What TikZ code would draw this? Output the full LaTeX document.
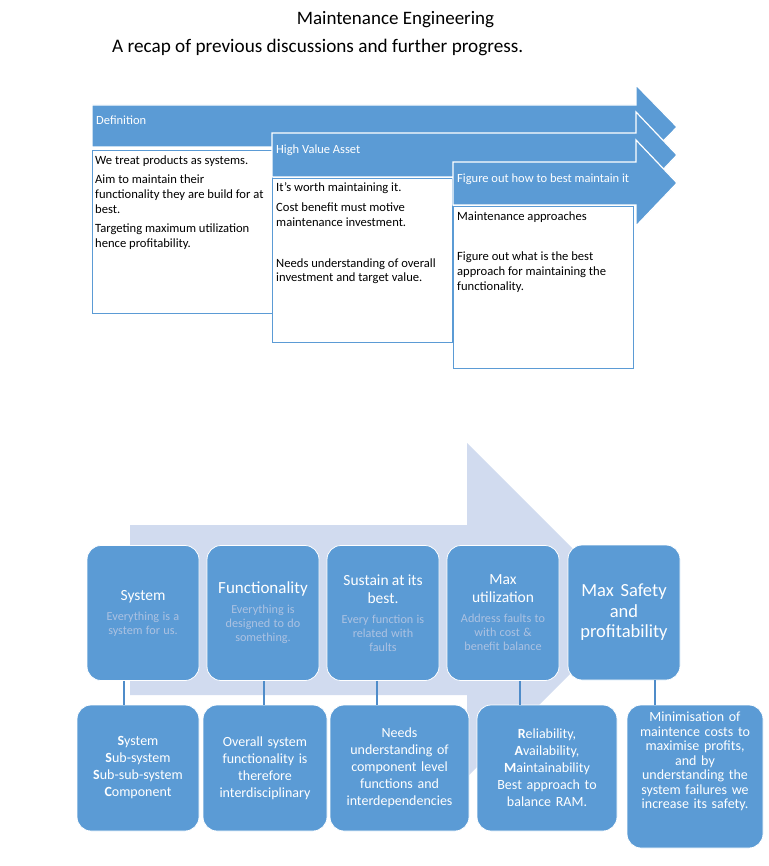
\documentclass[tikz,border=0pt]{standalone}
\usepackage{fontspec}
\setmainfont{Carlito}
\definecolor{boxblue}{RGB}{91,155,213}
\definecolor{lightarrow}{RGB}{209,219,239}
\definecolor{subgrey}{RGB}{172,194,226}
\definecolor{linkblue}{RGB}{79,140,201}
\newcommand\rtitle{\fontsize{15.5}{18}\selectfont}
\newcommand\rsub{\fontsize{12.2}{14}\selectfont\color{subgrey}}
\begin{document}
\begin{tikzpicture}[x=1pt,y=-1pt,
  tline/.style={anchor=base west, inner sep=0pt, font=\fontsize{12.6}{15}\selectfont, text=black},
  alabel/.style={anchor=base west, inner sep=0pt, font=\fontsize{12.5}{15}\selectfont, text=white},
  bigarrow/.style={fill=boxblue, draw=white, line width=1.2pt},
  tbox/.style={draw=boxblue, line width=1pt, fill=white, inner sep=0pt, anchor=north west},
  r1box/.style={rounded corners=14pt, fill=boxblue, draw=white, line width=0.8pt,
    minimum height=135pt, text width=#1, align=center, text=white, inner xsep=3pt, inner ysep=0pt},
  r2box/.style={rounded corners=14pt, fill=boxblue, draw=white, line width=0.8pt,
    minimum height=126pt, text width=#1, align=center, text=white, inner xsep=3pt, inner ysep=0pt,
    font=\fontsize{14}{17}\selectfont},
  conn/.style={draw=linkblue, line width=1.4pt}
]
\useasboundingbox (0,0) rectangle (768,866);

% titles
\node[font=\fontsize{19}{23}\selectfont, anchor=base, inner sep=0pt] (title) at (395.5,25) {Maintenance Engineering};
\node[font=\fontsize{19.2}{23}\selectfont, anchor=base west, inner sep=0pt] (subtitle) at (112,53) {A recap of previous discussions and further progress.};

% top arrows and boxes
\filldraw[bigarrow] (92,105) -- (636,105) -- (636,85) -- (677,127) -- (636,169) -- (636,147) -- (92,147) -- cycle;
\node[alabel] (l1) at (96,125) {Definition};
\node[tbox, minimum width=180pt, minimum height=163pt] (b1) at (92,150) {};
\node[tline] (b1a) at (95,164.5) {We treat products as systems.};
\node[tline] (b1b) at (95,183.5) {Aim to maintain their};
\node[tline] (b1c) at (95,198.5) {functionality they are build for at};
\node[tline] (b1d) at (95,213.5) {best.};
\node[tline] (b1e) at (95,232.5) {Targeting maximum utilization};
\node[tline] (b1f) at (95,247.5) {hence profitability.};

\filldraw[bigarrow] (272,133) -- (636,133) -- (636,112) -- (677,155) -- (636,198) -- (636,177) -- (272,177) -- cycle;
\node[alabel] (l2) at (276,154) {High Value Asset};
\node[tbox, minimum width=180pt, minimum height=164pt] (b2) at (272,178) {};
\node[tline] (b2a) at (276,191.5) {It’s worth maintaining it.};
\node[tline] (b2b) at (276,211.5) {Cost benefit must motive};
\node[tline] (b2c) at (276,226.5) {maintenance investment.};
\node[tline] (b2d) at (276,267.5) {Needs understanding of overall};
\node[tline] (b2e) at (276,281.5) {investment and target value.};

\filldraw[bigarrow] (453,162) -- (636,162) -- (636,140) -- (677,183) -- (636,226) -- (636,205) -- (453,205) -- cycle;
\node[alabel] (l3) at (457,183) {Figure out how to best maintain it};
\node[tbox, minimum width=180pt, minimum height=162pt] (b3) at (453,206) {};
\node[tline] (b3a) at (457,220.5) {Maintenance approaches};
\node[tline] (b3b) at (457,260.5) {Figure out what is the best};
\node[tline] (b3c) at (457,275.5) {approach for maintaining the};
\node[tline] (b3d) at (457,290.5) {functionality.};

% bottom light arrow
\fill[lightarrow] (130,525) -- (467,525) -- (467,443) -- (634,610) -- (467,777) -- (467,695) -- (130,695) -- cycle;

% row 1
\node[r1box=106pt] (r1a) at (143,613) {{\rtitle System\par}\vspace{6pt}{\rsub Everything is a\\ system for us.\par}};
\node[r1box=106pt] (r1b) at (263,613) {{\fontsize{17}{19}\selectfont Functionality\par}\vspace{6pt}{\rsub Everything is\\ designed to do\\ something.\par}};
\node[r1box=106pt] (r1c) at (383,613) {{\rtitle Sustain at its\\ best.\par}\vspace{6pt}{\rsub Every function is\\ related with\\ faults\par}};
\node[r1box=106pt] (r1d) at (503,613) {{\rtitle Max\\ utilization\par}\vspace{6pt}{\rsub Address faults to\\ with cost \&\\ benefit balance\par}};
\node[r1box=106pt] (r1e) at (624,612.5) {{\fontsize{18.5}{20.5}\selectfont Max\ \ Safety\\ and\\ profitability\par}};

% row 2
\node[r2box=116pt] (r2a) at (138,768) {\textbf{S}ystem\\ \textbf{S}ub-system\\ \textbf{S}ub-sub-system\\ \textbf{C}omponent};
\node[r2box=118pt] (r2b) at (265,768) {Overall system\\ functionality is\\ therefore\\ interdisciplinary};
\node[r2box=133pt] (r2c) at (399.5,768) {Needs\\ understanding of\\ component level\\ functions and\\ interdependencies};
\node[r2box=134pt] (r2d) at (547,768) {\textbf{R}eliability,\\ \textbf{A}vailability,\\ \textbf{M}aintainability\\ Best approach to\\ balance RAM.};
\node[r2box=130pt, minimum height=143pt] (r2e) at (695,776.5) {{\fontsize{14}{14.5}\selectfont Minimisation of\\ maintence costs to\\ maximise profits,\\ and by\\ understanding the\\ system failures we\\ increase its safety.\par}\vspace{30pt}};

% connectors
\coordinate (k1) at (124,0);
\coordinate (k2) at (264,0);
\coordinate (k3) at (377,0);
\coordinate (k4) at (520,0);
\coordinate (k5) at (655,0);
\draw[conn] (r1a.south -| k1) -- (r2a.north -| k1);
\draw[conn] (r1b.south -| k2) -- (r2b.north -| k2);
\draw[conn] (r1c.south -| k3) -- (r2c.north -| k3);
\draw[conn] (r1d.south -| k4) -- (r2d.north -| k4);
\draw[conn] (r1e.south -| k5) -- (r2e.north -| k5);
\end{tikzpicture}
\end{document}
